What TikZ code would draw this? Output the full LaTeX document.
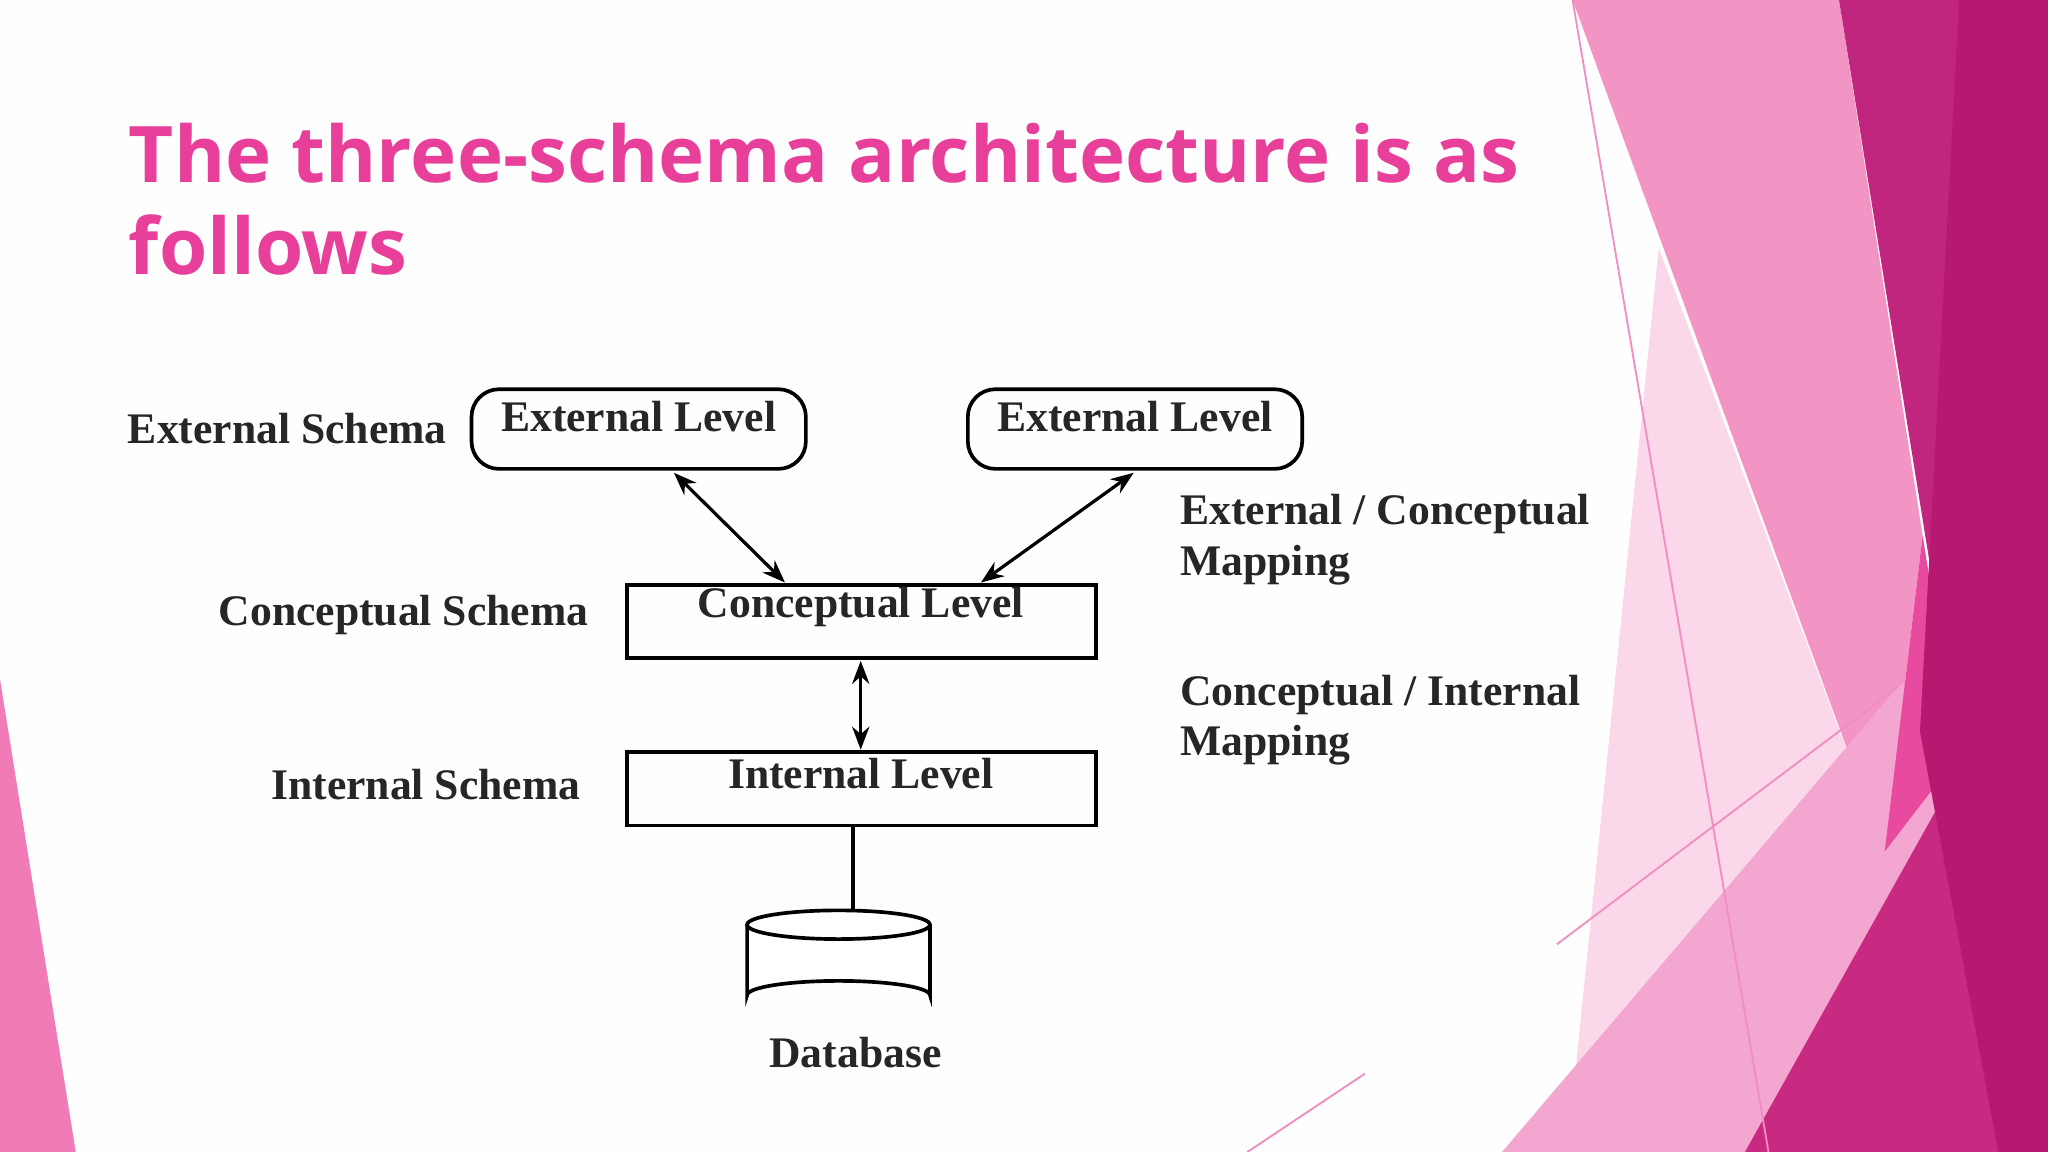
\documentclass[tikz,border=0pt]{standalone}
\usepackage{fontspec}
\setmainfont{Liberation Serif}
\newfontfamily\titlefont{Open Sans}
\usetikzlibrary{arrows.meta,shapes.geometric}
\definecolor{ttl}{HTML}{E8409A}
\tikzset{
 lvl/.style={draw,line width=0.8pt,anchor=north west,inner sep=0pt},
 lbl/.style={font=\fontsize{9.5pt}{11pt}\selectfont\bfseries,text=black!85},
 dbl/.style={{Stealth[length=5pt]}-{Stealth[length=5pt]},line width=0.7pt},
}
\begin{document}
\begin{tikzpicture}[x=0.01cm,y=-0.01cm]
\useasboundingbox (0,0) rectangle (1568,882);
\fill[white!98!pink] (0,0) rectangle (1568,882);
% decorations
\fill[fill={rgb,255:red,240;green,123;blue,182}] (0,520) -- (58,882) -- (0,882) -- cycle;
\fill[fill={rgb,255:red,242;green,148;blue,196}] (1204,0) -- (1408,0) -- (1472,410) -- (1443,652) -- cycle;
\fill[fill={rgb,255:red,250;green,215;blue,233}] (1270,190) -- (1443,652) -- (1300,882) -- (1200,882) -- cycle;
\fill[fill={rgb,255:red,243;green,166;blue,208}] (1150,882) -- (1453,526) -- (1568,460) -- (1568,882) -- cycle;
\fill[fill={rgb,255:red,232;green,74;blue,159}] (1443,652) -- (1499,579) -- (1472,410) -- cycle;
\fill[fill={rgb,255:red,192;green,38;blue,126}] (1408,0) -- (1568,0) -- (1568,882) -- (1550,882) -- cycle;
\fill[fill={rgb,255:red,199;green,42;blue,128}] (1336,882) -- (1568,467) -- (1568,882) -- cycle;
\fill[fill={rgb,255:red,183;green,24;blue,112}] (1500,0) -- (1568,0) -- (1568,882) -- (1530,882) -- (1470,560) -- cycle;
\draw[ttl!60,line width=0.4pt] (1204,0) -- (1354,882);
\draw[ttl!60,line width=0.4pt] (1192,723) -- (1453,526);
\draw[ttl!60,line width=0.4pt] (955,882) -- (1045,822);
% title
\node[anchor=base west,inner sep=0pt,text=ttl,font=\titlefont\fontsize{17pt}{20pt}\selectfont\bfseries] (t1) at (98,140) {The three-schema architecture is as};
\node[anchor=base west,inner sep=0pt,text=ttl,font=\titlefont\fontsize{17pt}{20pt}\selectfont\bfseries] (t2) at (98,210) {follows};
% boxes
\draw[line width=0.8pt,rounded corners=6pt] (361,298) rectangle (617,359);
\node[lbl] (e1) at (489,319) {External Level};
\coordinate (e1b) at (516,362);
\draw[line width=0.8pt,rounded corners=6pt] (741,298) rectangle (997,359);
\node[lbl] (e2) at (869,319) {External Level};
\coordinate (e2b) at (868,362);
\draw[line width=0.8pt] (480,448) rectangle (839,504);
\node[lbl] (c) at (659,465) {Conceptual Level};
\coordinate (ct1) at (601,446); \coordinate (ct2) at (751,446); \coordinate (cb) at (659,506);
\draw[line width=0.8pt] (480,576) rectangle (839,632);
\node[lbl] (i) at (659,592) {Internal Level};
\coordinate (it) at (659,574); \coordinate (ib) at (653,632);
\draw[dbl] (e1b) -- (ct1);
\draw[dbl] (e2b) -- (ct2);
\draw[dbl] (cb) -- (it);
% database
\coordinate (dt) at (653,697);
\draw[line width=0.8pt] (ib) -- (dt);
\draw[line width=0.8pt,fill=white] (572,708) -- (572,762) arc[start angle=180,end angle=360,x radius=70,y radius=11] -- (712,708);
\draw[line width=0.8pt,fill=white] (642,708) ellipse[x radius=70,y radius=11];
\node[lbl] (db) at (655,806) {Database};
% labels
\node[lbl] (es) at (220,328) {External Schema};
\node[lbl] (cs) at (309,471) {Conceptual Schema};
\node[lbl] (is) at (326,601) {Internal Schema};
\node[lbl,anchor=north west,align=left,inner sep=0pt] (m1) at (903,378) {External / Conceptual\\Mapping};
\node[lbl,anchor=north west,align=left,inner sep=0pt] (m2) at (903,516) {Conceptual / Internal\\Mapping};
\end{tikzpicture}
\end{document}
